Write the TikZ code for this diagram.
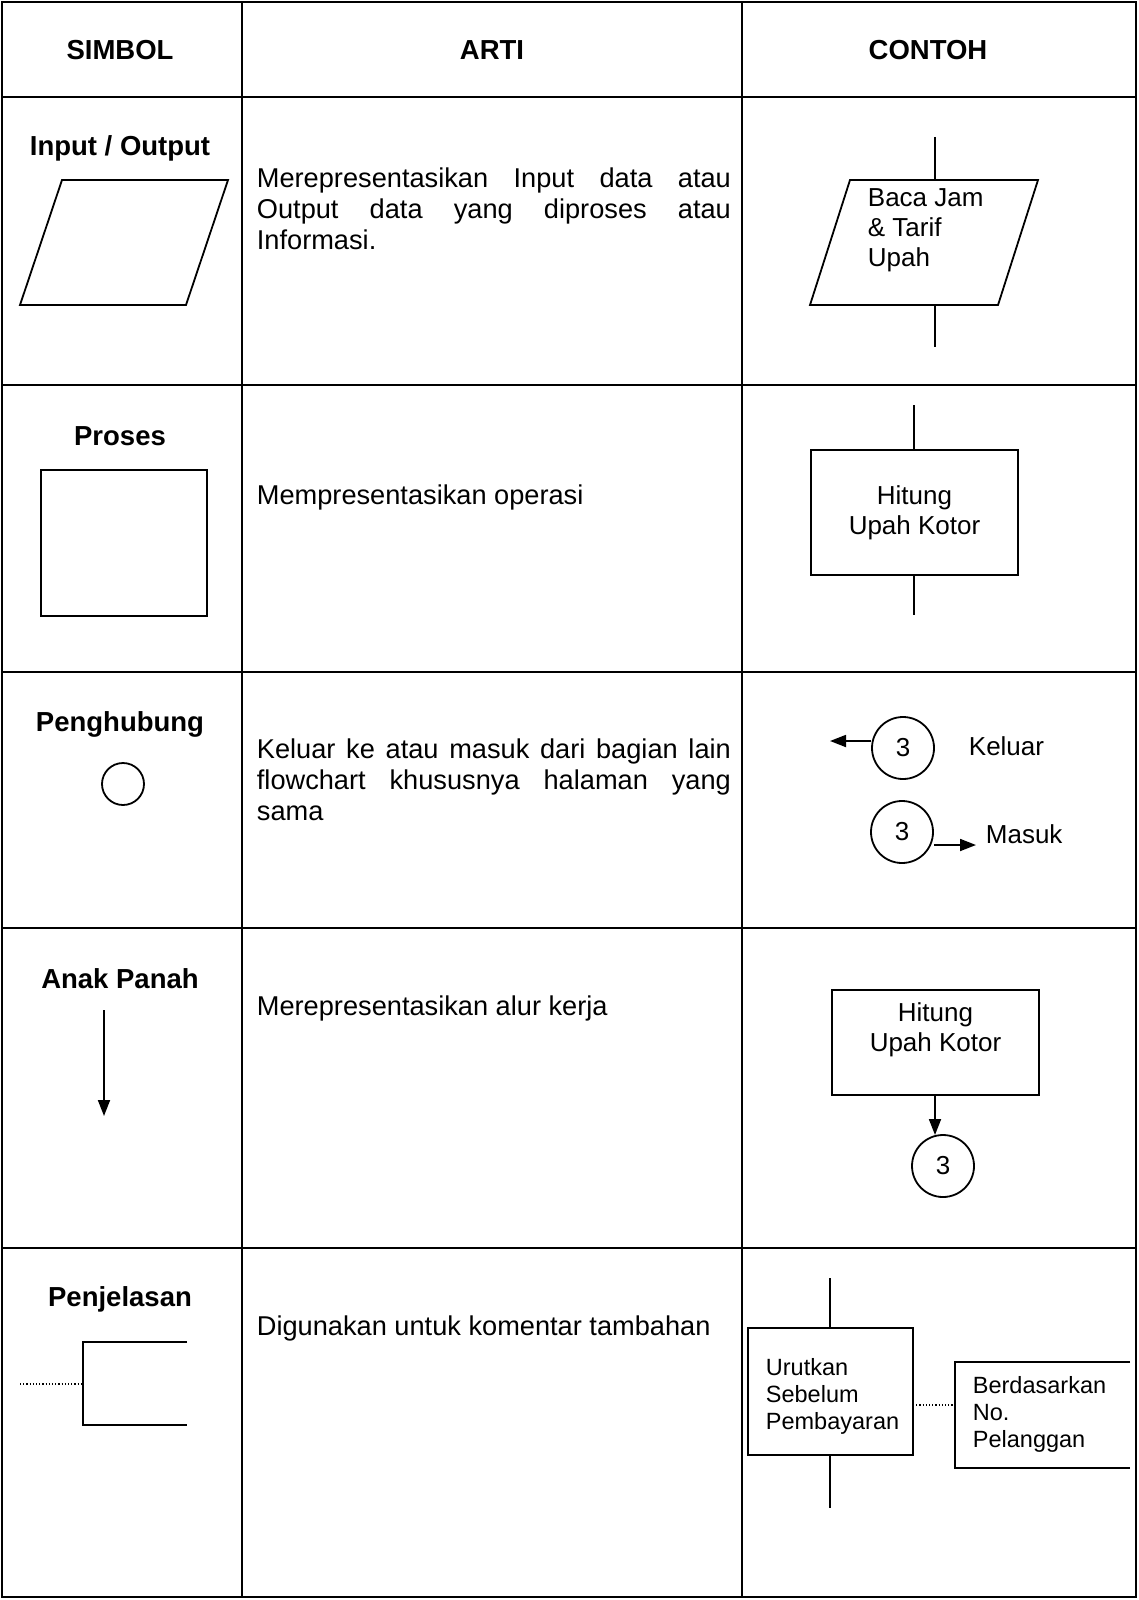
\documentclass[tikz,border=0pt]{standalone}
\usepackage{fontspec}
\setmainfont{Liberation Sans}
\usetikzlibrary{arrows.meta}
\hyphenpenalty=10000
\exhyphenpenalty=10000
\begin{document}
\begin{tikzpicture}[x=1pt,y=-1pt,line width=1.8pt,
  hd/.style={font=\fontsize{27.5}{30}\selectfont\bfseries},
  desc/.style={anchor=north west,inner sep=0,text width=474pt,align=justify,font=\fontsize{27.2}{31}\selectfont},
  ex/.style={font=\fontsize{26}{30}\selectfont,inner sep=0},
  arr/.style={-{Triangle[length=16pt,width=12pt]}},
  dot/.style={dotted,line width=1.2pt}]
\useasboundingbox (0,0) rectangle (1138,1600);
% table
\draw (2,2) rectangle (1136,1597);
\foreach \y in {97,385,672,928,1248} \draw (2,\y) -- (1136,\y);
\draw (242,2) -- (242,1597);
\draw (742,2) -- (742,1597);
\node[hd] (h1) at (120,50) {SIMBOL};
\node[hd] (h2) at (492,50) {ARTI};
\node[hd] (h3) at (928,50) {CONTOH};
% row 1
\node[hd] (t1) at (120,148) {Input / Output};
\draw (20,305) -- (62,180) -- (228,180) -- (186,305) -- cycle;
\node[desc] (d1) at (256,167) {Merepresentasikan Input data atau\linebreak Output data yang diproses atau\linebreak Informasi.};
\coordinate (a1) at (935,137); \coordinate (b1) at (935,347);
\draw (a1) -- (b1);
\draw[fill=white] (810,305) -- (850,180) -- (1038,180) -- (998,305) -- cycle;
\node[ex,anchor=north west,align=left] (e1) at (867,188) {Baca Jam\\\& Tarif\\Upah};
% row 2
\node[hd] (t2) at (120,436) {Proses};
\draw (41,470) rectangle (207,616);
\node[desc] (d2) at (256,484) {Mempresentasikan operasi};
\coordinate (a2) at (914,405); \coordinate (b2) at (914,615);
\draw (a2) -- (b2);
\node[draw,fill=white,minimum width=207pt,minimum height=125pt,ex,align=center] (e2) at (914.5,512.5) {Hitung\\Upah Kotor};
% row 3
\node[hd] (t3) at (120,724) {Penghubung};
\node[draw,circle,minimum size=42pt,inner sep=0] (c0) at (123,784) {};
\node[desc] (d3) at (256,738) {Keluar ke atau masuk dari bagian lain\linebreak flowchart khususnya halaman yang\linebreak sama};
\node[draw,circle,minimum size=62pt,inner sep=0,ex] (c1) at (903,748) {3};
\coordinate (k1) at (830,741);
\draw[arr] (c1.west |- k1) -- (k1);
\node[ex,anchor=west] (kl) at (968,746) {Keluar};
\node[draw,circle,minimum size=62pt,inner sep=0,ex] (c2) at (902,832) {3};
\coordinate (m1) at (976,845);
\draw[arr] (c2.east |- m1) -- (m1);
\node[ex,anchor=west] (ms) at (985,834) {Masuk};
% row 4
\node[hd] (t4) at (120,979) {Anak Panah};
\coordinate (p1) at (104,1010); \coordinate (p2) at (104,1116);
\draw[arr] (p1) -- (p2);
\node[desc] (d4) at (256,995) {Merepresentasikan alur kerja};
\node[draw,minimum width=207pt,minimum height=105pt,ex,align=center,text depth=30pt] (e4) at (935.5,1042.5) {Hitung\\Upah Kotor};
\node[draw,circle,minimum size=62pt,inner sep=0,ex] (c3) at (943,1166) {3};
\draw[arr] (e4.south -| 935,0) -- (935,1135);
% row 5
\node[hd] (t5) at (120,1299) {Penjelasan};
\draw (187,1342) -- (83,1342) -- (83,1425) -- (187,1425);
\coordinate (q1) at (20,1384); \coordinate (q2) at (83,1384);
\draw[dot] (q1) -- (q2);
\node[desc] (d5) at (256,1315) {Digunakan untuk komentar tambahan};
\coordinate (a5) at (830,1278); \coordinate (b5) at (830,1508);
\draw (a5) -- (b5);
\draw[fill=white] (748,1328) rectangle (913,1455);
\node[ex,anchor=north west,align=left,font=\fontsize{23.5}{27}\selectfont] (e5) at (765,1358) {Urutkan\\Sebelum\\Pembayaran};
\draw (1130,1362) -- (955,1362) -- (955,1468) -- (1130,1468);
\draw[dot] (913,1405) -- (955,1405);
\node[ex,anchor=north west,align=left,font=\fontsize{23.5}{27}\selectfont] (e6) at (972,1376) {Berdasarkan\\No.\\Pelanggan};
\end{tikzpicture}
\end{document}
